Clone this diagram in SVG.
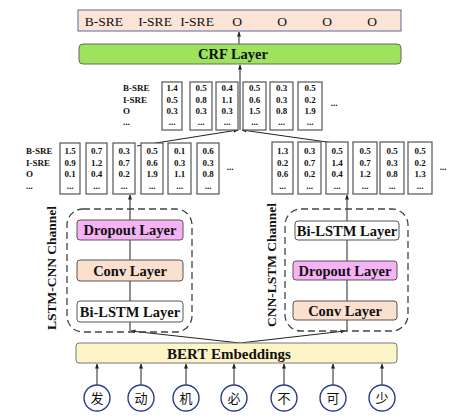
<svg xmlns="http://www.w3.org/2000/svg" width="474" height="418" viewBox="0 0 474 418">
<defs>
<marker id="ah" viewBox="0 0 10 10" refX="9" refY="5" markerWidth="5" markerHeight="5" orient="auto-start-reverse">
<path d="M0,1 L10,5 L0,9 z" fill="#222"/>
</marker>
<style>
text{font-family:"Liberation Serif","Times New Roman",serif;fill:#111}
.lbl{font-size:14.5px;font-weight:bold;text-anchor:middle}
.v{font-size:9px;font-weight:bold;text-anchor:middle}
.rl{font-size:9px;font-weight:bold}
.cell{fill:#fff;stroke:#555;stroke-width:1.2}
.layer{stroke:#555;stroke-width:1}
.ln{stroke:#222;stroke-width:1;fill:none}
.circ{fill:#fff;stroke:#2c3d8c;stroke-width:1.4}
.dash{fill:none;stroke:#444;stroke-width:1.3;stroke-dasharray:7,4}
.ch{font-size:13.5px;font-weight:bold;text-anchor:middle}
.cjk{font-family:"Noto Sans CJK SC",sans-serif;font-size:13px;text-anchor:middle}
.out{font-size:13.5px;text-anchor:middle}
</style>
</defs>

<g id="connectors">
<line class="ln" x1="239" y1="44" x2="239" y2="32" marker-end="url(#ah)"/>
<line class="ln" x1="240" y1="130" x2="240" y2="65" marker-end="url(#ah)"/>
<line class="ln" x1="137" y1="146" x2="238" y2="130" marker-end="url(#ah)"/>
<line class="ln" x1="348" y1="145" x2="242" y2="130" marker-end="url(#ah)"/>
<line class="ln" x1="130" y1="331" x2="130" y2="195" marker-end="url(#ah)"/>
<line class="ln" x1="347" y1="331" x2="347" y2="195" marker-end="url(#ah)"/>
<line class="ln" x1="240" y1="343" x2="131" y2="331" marker-end="url(#ah)"/>
<line class="ln" x1="240" y1="343" x2="345" y2="331" marker-end="url(#ah)"/>
<line class="ln" x1="97" y1="385" x2="97" y2="364" marker-end="url(#ah)"/>
<line class="ln" x1="141" y1="385" x2="141" y2="364" marker-end="url(#ah)"/>
<line class="ln" x1="186" y1="385" x2="186" y2="364" marker-end="url(#ah)"/>
<line class="ln" x1="234" y1="385" x2="234" y2="364" marker-end="url(#ah)"/>
<line class="ln" x1="284" y1="385" x2="284" y2="364" marker-end="url(#ah)"/>
<line class="ln" x1="333" y1="385" x2="333" y2="364" marker-end="url(#ah)"/>
<line class="ln" x1="382" y1="385" x2="382" y2="364" marker-end="url(#ah)"/>
</g>

<g id="output">
<rect x="78" y="10" width="323" height="21" fill="#fce4d6" stroke="#5a6a9a" stroke-width="1"/>
<text class="out" x="104" y="25.5">B-SRE</text>
<text class="out" x="155" y="25.5">I-SRE</text>
<text class="out" x="197" y="25.5">I-SRE</text>
<text class="out" x="237" y="25.5">O</text>
<text class="out" x="282" y="25.5">O</text>
<text class="out" x="327" y="25.5">O</text>
<text class="out" x="372" y="25.5">O</text>
</g>

<g id="crf">
<rect x="79" y="44" width="322" height="20" rx="4" fill="#9de35e" stroke="#666" stroke-width="1"/>
<text class="lbl" x="233" y="59">CRF Layer</text>
</g>

<g id="matrix-mid">
<text class="rl" x="123" y="91">B-SRE</text>
<text class="rl" x="123" y="103">I-SRE</text>
<text class="rl" x="123" y="114">O</text>
<text class="rl" x="123" y="125">...</text>
<rect class="cell" x="162" y="82" width="20" height="48"/>
<rect class="cell" x="190" y="82" width="22" height="48"/>
<rect class="cell" x="216" y="82" width="22" height="48"/>
<rect class="cell" x="243" y="82" width="23" height="48"/>
<rect class="cell" x="270" y="82" width="23" height="48"/>
<rect class="cell" x="298" y="82" width="24" height="48"/>
<text class="v" x="172" y="91">1.4</text><text class="v" x="172" y="103">0.5</text><text class="v" x="172" y="114">0.3</text><text class="v" x="172" y="125">...</text>
<text class="v" x="201" y="91">0.5</text><text class="v" x="201" y="103">0.8</text><text class="v" x="201" y="114">0.3</text><text class="v" x="201" y="125">...</text>
<text class="v" x="227" y="91">0.4</text><text class="v" x="227" y="103">1.1</text><text class="v" x="227" y="114">0.3</text><text class="v" x="227" y="125">...</text>
<text class="v" x="254.5" y="91">0.5</text><text class="v" x="254.5" y="103">0.6</text><text class="v" x="254.5" y="114">1.5</text><text class="v" x="254.5" y="125">...</text>
<text class="v" x="281.5" y="91">0.3</text><text class="v" x="281.5" y="103">0.3</text><text class="v" x="281.5" y="114">0.8</text><text class="v" x="281.5" y="125">...</text>
<text class="v" x="310" y="91">0.5</text><text class="v" x="310" y="103">0.2</text><text class="v" x="310" y="114">1.9</text><text class="v" x="310" y="125">...</text>
<text class="v" x="334" y="106">...</text>
</g>

<g id="matrix-left">
<text class="rl" x="26" y="154">B-SRE</text>
<text class="rl" x="26" y="166">I-SRE</text>
<text class="rl" x="26" y="177">O</text>
<text class="rl" x="26" y="189">...</text>
<rect class="cell" x="60" y="143" width="20" height="51"/>
<rect class="cell" x="86" y="143" width="21" height="51"/>
<rect class="cell" x="113" y="143" width="22" height="51"/>
<rect class="cell" x="141" y="143" width="22" height="51" stroke="#999"/>
<rect class="cell" x="168" y="143" width="23" height="51"/>
<rect class="cell" x="197" y="143" width="22" height="51"/>
<text class="v" x="70" y="154">1.5</text><text class="v" x="70" y="166">0.9</text><text class="v" x="70" y="177">0.1</text><text class="v" x="70" y="189">...</text>
<text class="v" x="96.5" y="154">0.7</text><text class="v" x="96.5" y="166">1.2</text><text class="v" x="96.5" y="177">0.4</text><text class="v" x="96.5" y="189">...</text>
<text class="v" x="124" y="154">0.3</text><text class="v" x="124" y="166">0.7</text><text class="v" x="124" y="177">0.2</text><text class="v" x="124" y="189">...</text>
<text class="v" x="152" y="154">0.5</text><text class="v" x="152" y="166">0.6</text><text class="v" x="152" y="177">1.9</text><text class="v" x="152" y="189">...</text>
<text class="v" x="179.5" y="154">0.1</text><text class="v" x="179.5" y="166">0.3</text><text class="v" x="179.5" y="177">1.1</text><text class="v" x="179.5" y="189">...</text>
<text class="v" x="208" y="154">0.6</text><text class="v" x="208" y="166">0.3</text><text class="v" x="208" y="177">0.8</text><text class="v" x="208" y="189">...</text>
<text class="v" x="230" y="170">...</text>
</g>

<g id="matrix-right">
<rect class="cell" x="272" y="142" width="21" height="52"/>
<rect class="cell" x="298" y="142" width="23" height="52"/>
<rect class="cell" x="326" y="142" width="22" height="52"/>
<rect class="cell" x="353" y="142" width="24" height="52"/>
<rect class="cell" x="380" y="142" width="24" height="52"/>
<rect class="cell" x="408" y="142" width="24" height="52"/>
<text class="v" x="282.5" y="154">1.3</text><text class="v" x="282.5" y="166">0.2</text><text class="v" x="282.5" y="177">0.6</text><text class="v" x="282.5" y="189">...</text>
<text class="v" x="309.5" y="154">0.3</text><text class="v" x="309.5" y="166">0.7</text><text class="v" x="309.5" y="177">0.2</text><text class="v" x="309.5" y="189">...</text>
<text class="v" x="337" y="154">0.5</text><text class="v" x="337" y="166">1.4</text><text class="v" x="337" y="177">0.4</text><text class="v" x="337" y="189">...</text>
<text class="v" x="365" y="154">0.5</text><text class="v" x="365" y="166">0.7</text><text class="v" x="365" y="177">1.2</text><text class="v" x="365" y="189">...</text>
<text class="v" x="392" y="154">0.5</text><text class="v" x="392" y="166">0.3</text><text class="v" x="392" y="177">0.8</text><text class="v" x="392" y="189">...</text>
<text class="v" x="420" y="154">0.5</text><text class="v" x="420" y="166">0.2</text><text class="v" x="420" y="177">1.3</text><text class="v" x="420" y="189">...</text>
<text class="v" x="443" y="170">...</text>
</g>

<g id="channel-left">
<rect class="dash" x="67" y="209" width="125" height="123" rx="16"/>
<text class="ch" transform="translate(56,268) rotate(-90)">LSTM-CNN Channel</text>
</g>
<g id="left-dropout">
<rect class="layer" x="77" y="220" width="106" height="20" rx="3" fill="#f5b3f5"/>
<text class="lbl" x="130" y="235">Dropout Layer</text>
</g>
<g id="left-conv">
<rect class="layer" x="77" y="260" width="106" height="21" rx="3" fill="#fbe0cf"/>
<text class="lbl" x="130" y="275.5">Conv Layer</text>
</g>
<g id="left-bilstm">
<rect class="layer" x="77" y="301" width="106" height="21" rx="3" fill="#fff"/>
<text class="lbl" x="130" y="316.5">Bi-LSTM Layer</text>
</g>

<g id="channel-right">
<rect class="dash" x="285" y="209" width="123" height="122" rx="16"/>
<text class="ch" transform="translate(276,265) rotate(-90)">CNN-LSTM Channel</text>
</g>
<g id="right-bilstm">
<rect class="layer" x="295" y="221" width="104" height="19" rx="3" fill="#fff"/>
<text class="lbl" x="347" y="235.5">Bi-LSTM Layer</text>
</g>
<g id="right-dropout">
<rect class="layer" x="293" y="261" width="104" height="19" rx="3" fill="#f5b3f5"/>
<text class="lbl" x="345" y="275.5">Dropout Layer</text>
</g>
<g id="right-conv">
<rect class="layer" x="293" y="301" width="104" height="19" rx="3" fill="#fbe0cf"/>
<text class="lbl" x="345" y="315.5">Conv Layer</text>
</g>

<g id="bert">
<rect x="76" y="343" width="321" height="20" rx="3" fill="#fdf4c8" stroke="#777" stroke-width="1"/>
<text class="lbl" x="229" y="358.5" style="font-size:15px">BERT Embeddings</text>
</g>

<g id="tok1"><circle class="circ" cx="97" cy="398" r="13"/><text class="cjk" x="97" y="403">发</text></g>
<g id="tok2"><circle class="circ" cx="141" cy="398" r="13"/><text class="cjk" x="141" y="403">动</text></g>
<g id="tok3"><circle class="circ" cx="186" cy="398" r="13"/><text class="cjk" x="186" y="403">机</text></g>
<g id="tok4"><circle class="circ" cx="234" cy="398" r="13"/><text class="cjk" x="234" y="403">必</text></g>
<g id="tok5"><circle class="circ" cx="284" cy="398" r="13"/><text class="cjk" x="284" y="403">不</text></g>
<g id="tok6"><circle class="circ" cx="333" cy="398" r="13"/><text class="cjk" x="333" y="403">可</text></g>
<g id="tok7"><circle class="circ" cx="382" cy="398" r="13"/><text class="cjk" x="382" y="403">少</text></g>
</svg>
